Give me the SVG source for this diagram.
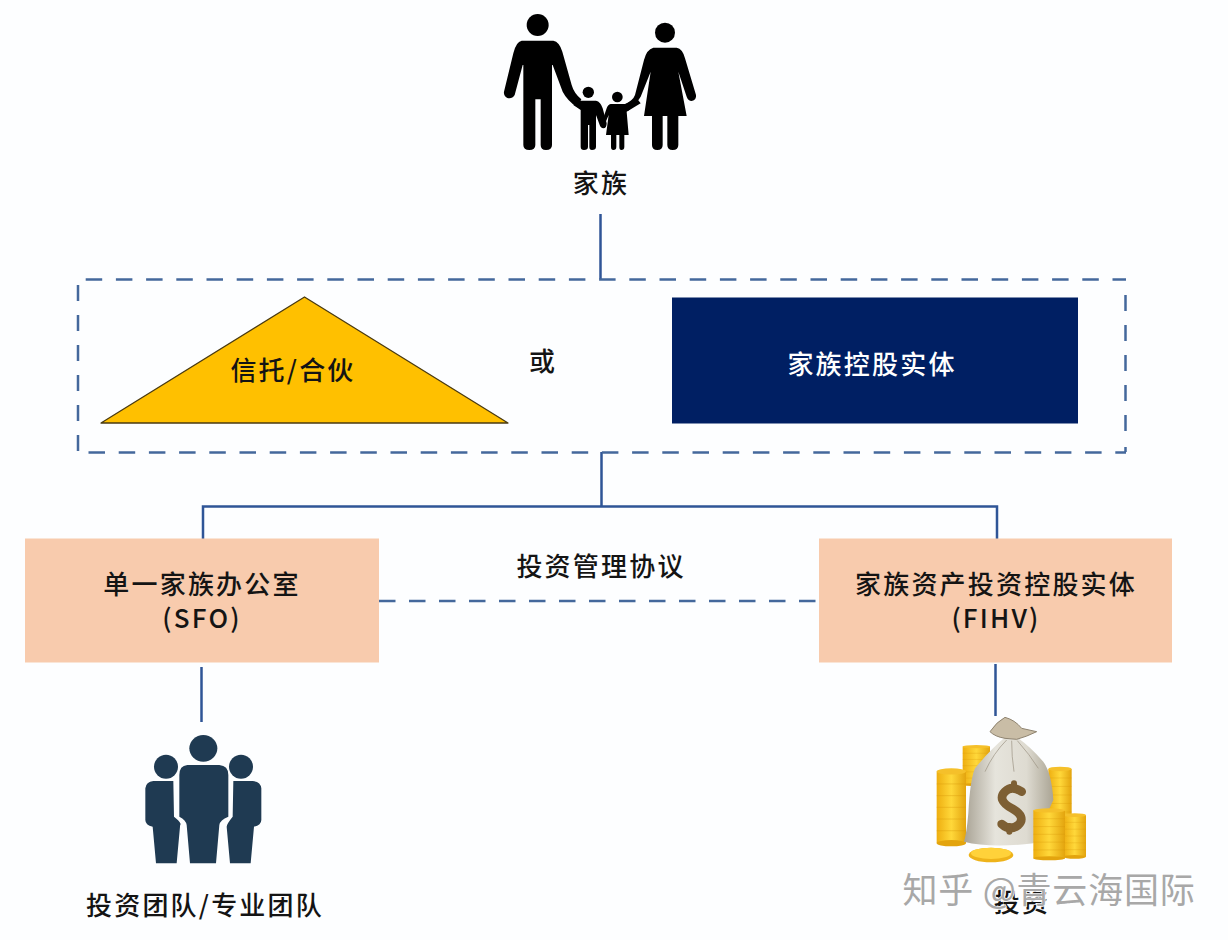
<svg xmlns="http://www.w3.org/2000/svg" width="1228" height="940" viewBox="0 0 1228 940">
<defs>
<style>
text{font-family:"Noto Sans CJK SC","Liberation Sans",sans-serif;font-size:26px;font-weight:500;fill:#141414;text-anchor:middle;letter-spacing:2.2px}
.solid{fill:none;stroke:#2f5597;stroke-width:2.5}
.dash{fill:none;stroke:#44689c;stroke-width:2.5}
.h{stroke-dasharray:16.5 13.7}
.v{stroke-dasharray:16 14}
.peach{fill:#f8cbad}
.wrinkle{fill:none;stroke:#9c9484;stroke-width:3;opacity:.7}
</style>
<linearGradient id="gold" x1="0" x2="1" y1="0" y2="0"><stop offset="0" stop-color="#eeae10"/><stop offset=".5" stop-color="#ffd83a"/><stop offset="1" stop-color="#e3a40e"/></linearGradient>
<linearGradient id="bag" x1="0" x2="1" y1="0" y2="0"><stop offset="0" stop-color="#a8a294"/><stop offset=".35" stop-color="#e6e4dc"/><stop offset=".7" stop-color="#dedbd1"/><stop offset="1" stop-color="#aaa494"/></linearGradient>
<g id="stack"><rect x="0" y="8" width="100" height="184" fill="url(#gold)"/><ellipse cx="50" cy="192" rx="50" ry="8" fill="#e3a40e"/><ellipse cx="50" cy="8" rx="50" ry="8" fill="#f5c02a"/><path d="M0 40H100M0 70H100M0 100H100M0 130H100M0 160H100" stroke="#d9980a" stroke-width="2" opacity=".55"/></g>
</defs>
<rect width="1228" height="940" fill="#fdfeff"/>

<g id="connectors">
<path class="solid" d="M600.500 214V279"/>
<path class="solid" d="M601.500 452V506.500M203 539V506.500H997V539"/>
<path class="solid" d="M201.500 667V722M995.500 664V716"/>
<path class="dash" d="M379 601H819" stroke-dasharray="16.500 13.500"/>
<path class="dash h" d="M85.700 279.500H1126"/>
<path class="dash h" d="M88.500 452.500H1126"/>
<path class="dash v" d="M78 285V452"/>
<path class="dash v" d="M1125.500 295V432M1125.500 447V452"/>
</g>

<g id="family">
<g transform="translate(490 0) scale(.33333)" fill="#000">
<circle cx="143" cy="75" r="33"/>
<path d="M95 122H190Q208 125 217 155L245 255Q252 280 274 298L262 322Q232 302 218 275L188 195L186 195V435Q186 450 168 450Q152 450 152 435V298H136V435Q136 450 118 450Q100 450 100 435V195L98 195L74 285Q66 298 52 294Q40 288 42 275L70 160Q78 125 95 122Z"/>
<circle cx="295" cy="277" r="17"/>
<path d="M272 302H318Q332 305 338 325L350 370Q350 385 340 385Q332 385 328 372L318 345V440Q318 450 306 450Q298 450 298 440V375H294V440Q294 450 282 450Q272 450 272 440V330L250 315L262 300Z"/>
<circle cx="382" cy="291" r="16"/>
<path d="M362 312H405L440 295L452 310L410 335L416 405H403V440Q403 450 394 450Q388 450 388 440V405H379V440Q379 450 370 450Q363 450 363 440V405H348L356 345L342 378L336 365L350 325Q353 314 362 312Z"/>
<circle cx="525" cy="98" r="30"/>
<path d="M490 143H560Q578 146 585 175L618 285Q620 300 605 303Q595 303 590 290L565 215L590 348H565V435Q565 450 548 450Q532 450 532 435V348H518V435Q518 450 502 450Q486 450 486 435V348H462L482 215L452 290Q440 310 415 332L403 315Q430 300 435 285L462 180Q470 148 490 143Z"/>
</g>
<text x="601" y="193">家族</text>
</g>

<g id="trust">
<path d="M101 423L304.500 297L508 423Z" fill="#ffc000" stroke="#4a3a10" stroke-width="1.300" stroke-linejoin="round"/>
<text x="293" y="380">信托/合伙</text>
</g>
<g id="or"><text x="543" y="371">或</text></g>
<g id="holding">
<rect x="672" y="297.500" width="406" height="126" fill="#001f63"/>
<text x="872" y="374" style="fill:#fff">家族控股实体</text>
</g>
<g id="sfo">
<rect class="peach" x="25" y="538.500" width="354" height="124"/>
<text x="202" y="594">单一家族办公室</text>
<text x="202" y="628">(SFO)</text>
</g>
<g id="agreement"><text x="601" y="576">投资管理协议</text></g>
<g id="fihv">
<rect class="peach" x="819" y="538.500" width="353" height="124"/>
<text x="996" y="594">家族资产投资控股实体</text>
<text x="996" y="628">(FIHV)</text>
</g>

<g id="team">
<g transform="translate(130 720) scale(.33333)" fill="#1f3a52">
<ellipse cx="220" cy="85" rx="42" ry="40"/>
<path d="M172 135H268Q295 137 295 165V290Q270 300 268 315L258 430H180L170 315Q168 300 148 290V165Q148 137 172 135Z"/>
<circle cx="108" cy="140" r="36"/>
<path d="M70 183H130L132 290Q148 302 152 312Q150 315 150 320L140 430H78L68 320Q46 315 46 300V205Q48 185 70 183Z"/>
<circle cx="333" cy="140" r="36"/>
<path d="M310 183H368Q392 185 394 205V300Q394 315 372 320L362 430H300L290 320Q290 312 308 290Z"/>
</g>
<text x="205" y="915">投资团队/专业团队</text>
</g>

<g id="money">
<g transform="translate(890 700) scale(.33333)">
<use href="#stack" transform="translate(218 135) scale(.82 .62)"/>
<use href="#stack" transform="translate(140 205) scale(.88 1.17)"/>
<use href="#stack" transform="translate(475 200) scale(.7 .85)"/>
<path d="M345 112Q300 150 255 205Q240 240 235 340Q230 400 222 425Q300 445 430 430L490 300Q485 220 460 185Q420 140 385 115Z" fill="url(#bag)"/>
<path class="wrinkle" d="M350 120Q310 160 285 215M365 122Q365 170 372 215M382 122Q420 165 445 205"/>
<path d="M300 95Q320 65 345 52Q375 60 395 85L440 95Q410 110 380 118L345 115Q315 110 300 95Z" fill="#c9bda6" stroke="#8f8470" stroke-width="3"/>
<path d="M395 275Q365 255 345 275Q320 300 365 325Q410 350 385 375Q360 395 335 372" fill="none" stroke="#7d5f34" stroke-width="26" stroke-linecap="round"/>
<path d="M372 250V268M358 378V395" stroke="#7d5f34" stroke-width="18" stroke-linecap="round"/>
<use href="#stack" transform="translate(520 340) scale(.68 .68)"/>
<use href="#stack" transform="translate(430 325) scale(.95 .78)"/>
<ellipse cx="303" cy="465" rx="67" ry="22" fill="#eeb31a"/>
<ellipse cx="303" cy="460" rx="60" ry="17" fill="#ffd23a"/>
</g>
<text x="1022" y="912">投资</text>
</g>

<g id="watermark">
<text x="1049" y="903" style="font-size:35px;font-weight:400;letter-spacing:.8px;fill:#a8a8a8;stroke:#fff;stroke-width:1.500;paint-order:stroke">知乎 @青云海国际</text>
</g>
</svg>
